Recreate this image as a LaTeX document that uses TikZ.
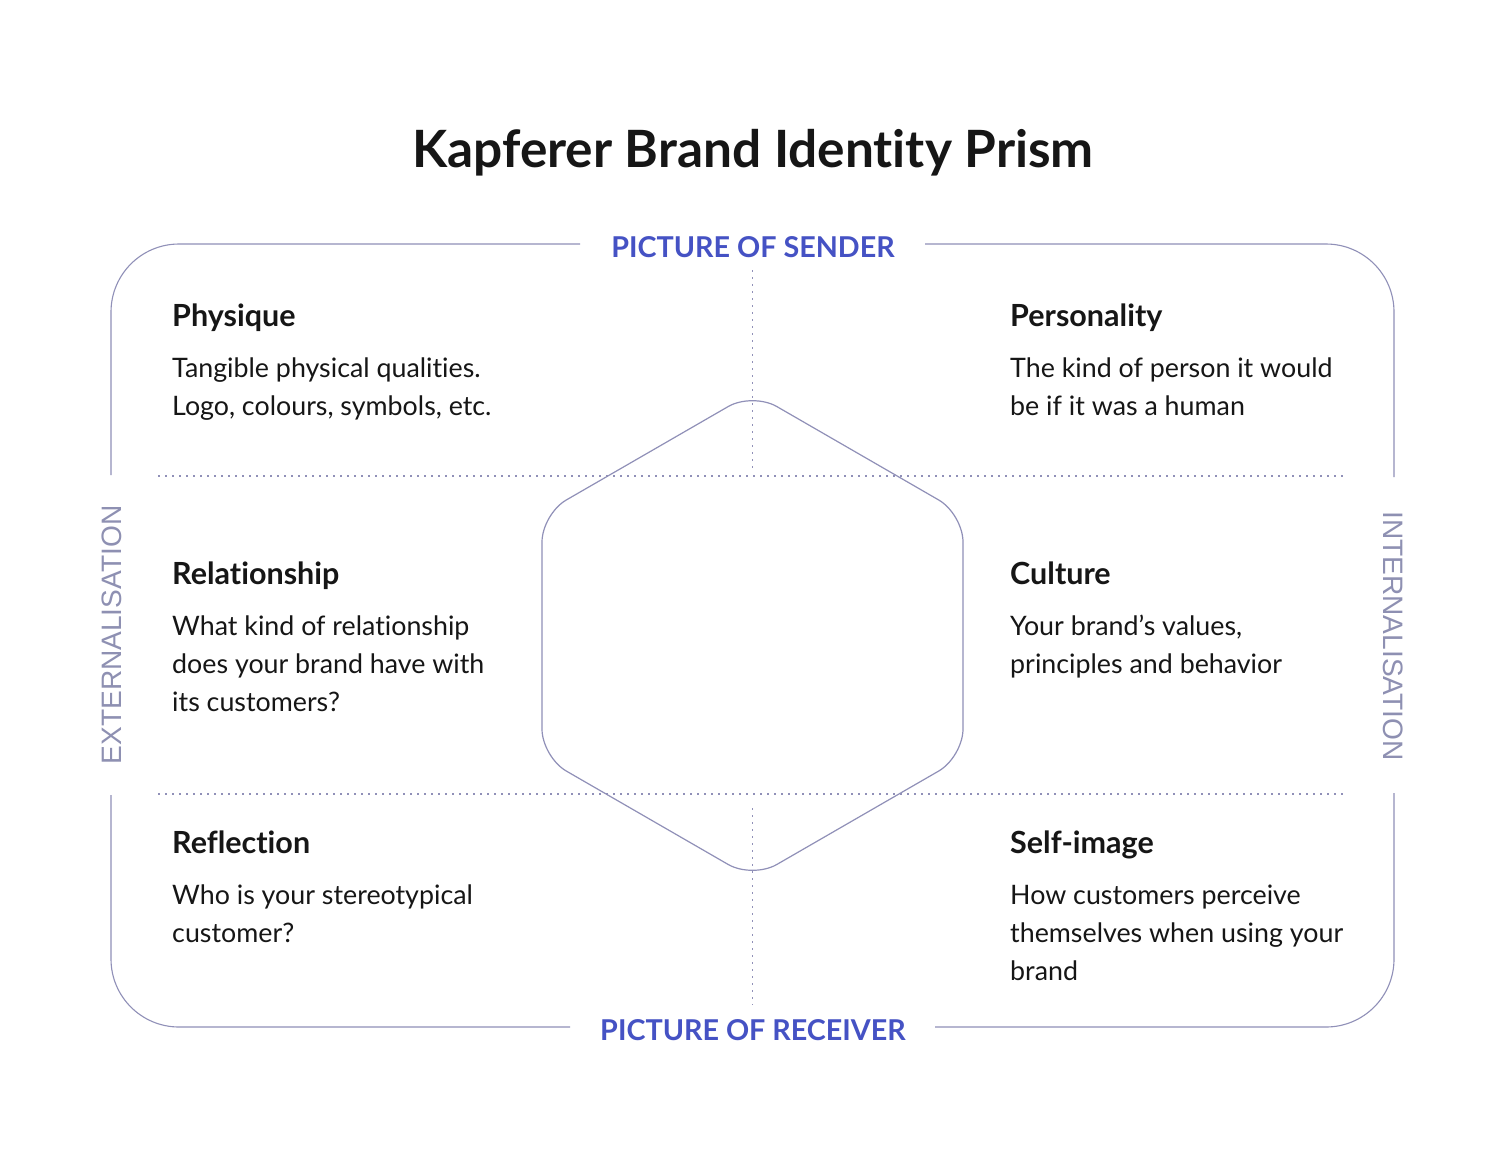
\documentclass[tikz,border=0pt]{standalone}
\usepackage{fontspec}
\setmainfont{Lato}[Ligatures=CommonOff]
\newfontfamily\labfont{Liberation Sans}
\definecolor{linec}{HTML}{9090B8}
\definecolor{bluec}{HTML}{4552C4}
\definecolor{rotc}{HTML}{8E90B2}
\definecolor{txtc}{HTML}{161616}
\tikzset{
  frame/.style={draw=linec, line width=1.1pt, rounded corners=68pt},
  hexa/.style={draw=linec, line width=1.2pt, rounded corners=28pt},
  dotl/.style={draw=linec, line width=1.3pt, dash pattern=on 1.5pt off 5.5pt},
  titletxt/.style={anchor=base, inner sep=0pt, text=txtc, font=\fontsize{51.4}{60}\selectfont\bfseries},
  headtxt/.style={anchor=base west, inner sep=0pt, text=txtc, font=\fontsize{30.5}{36}\selectfont\bfseries},
  bodytxt/.style={anchor=base west, inner sep=0pt, text=txtc, font=\fontsize{26.8}{32}\selectfont},
  bluetxt/.style={anchor=base, inner sep=0pt, text=bluec, font=\fontsize{28.7}{34}\selectfont\bfseries},
  rottxt/.style={anchor=center, inner sep=0pt, text=rotc, font=\labfont\fontsize{28.1}{32}\selectfont},
}
\begin{document}
\begin{tikzpicture}[x=1pt,y=-1pt]
\fill[white] (0,0) rectangle (1504,1168);
\useasboundingbox (0,0) rectangle (1504,1168);
% frame
\draw[frame] (580,244) -- (111,244) -- (111,475);
\draw[frame] (925,244) -- (1394,244) -- (1394,477);
\draw[frame] (111,795) -- (111,1027) -- (570,1027);
\draw[frame] (935,1027) -- (1394,1027) -- (1394,793);
% dotted guides
\draw[dotl] (158,476) -- (1345,476);
\draw[dotl] (158,794) -- (1345,794);
\draw[dotl] (752.5,270) -- (752.5,470);
\draw[dotl] (752.5,808) -- (752.5,1005);
% hexagon
\draw[hexa] (752.5,392.5) -- (963,514) -- (963,757) -- (752.5,878.5) -- (542,757) -- (542,514) -- cycle;
% title
\node[titletxt] (title) at (753,167) {Kapferer Brand Identity Prism};
\node[bluetxt] (sender) at (753,257) {PICTURE OF SENDER};
\node[bluetxt] (receiver) at (753,1040) {PICTURE OF RECEIVER};
\node[rottxt, rotate=90] (ext) at (112,635) {EXTERNALISATION};
\node[rottxt, rotate=-90] (int) at (1393,636) {INTERNALISATION};
% quadrants
\node[headtxt] (h1) at (172,326) {Physique};
\node[bodytxt] (b1a) at (172,377) {Tangible physical qualities.};
\node[bodytxt] (b1b) at (172,415) {Logo, colours, symbols, etc.};
\node[headtxt] (h2) at (1010,326) {Personality};
\node[bodytxt] (b2a) at (1010,377) {The kind of person it would};
\node[bodytxt] (b2b) at (1010,415) {be if it was a human};
\node[headtxt] (h3) at (172,584) {Relationship};
\node[bodytxt] (b3a) at (172,635) {What kind of relationship};
\node[bodytxt] (b3b) at (172,673) {does your brand have with};
\node[bodytxt] (b3c) at (172,711) {its customers?};
\node[headtxt] (h4) at (1010,584) {Culture};
\node[bodytxt] (b4a) at (1010,635) {Your brand’s values,};
\node[bodytxt] (b4b) at (1010,673) {principles and behavior};
\node[headtxt] (h5) at (172,853) {Reflection};
\node[bodytxt] (b5a) at (172,904) {Who is your stereotypical};
\node[bodytxt] (b5b) at (172,942) {customer?};
\node[headtxt] (h6) at (1010,853) {Self-image};
\node[bodytxt] (b6a) at (1010,904) {How customers perceive};
\node[bodytxt] (b6b) at (1010,942) {themselves when using your};
\node[bodytxt] (b6c) at (1010,980) {brand};
\end{tikzpicture}
\end{document}
